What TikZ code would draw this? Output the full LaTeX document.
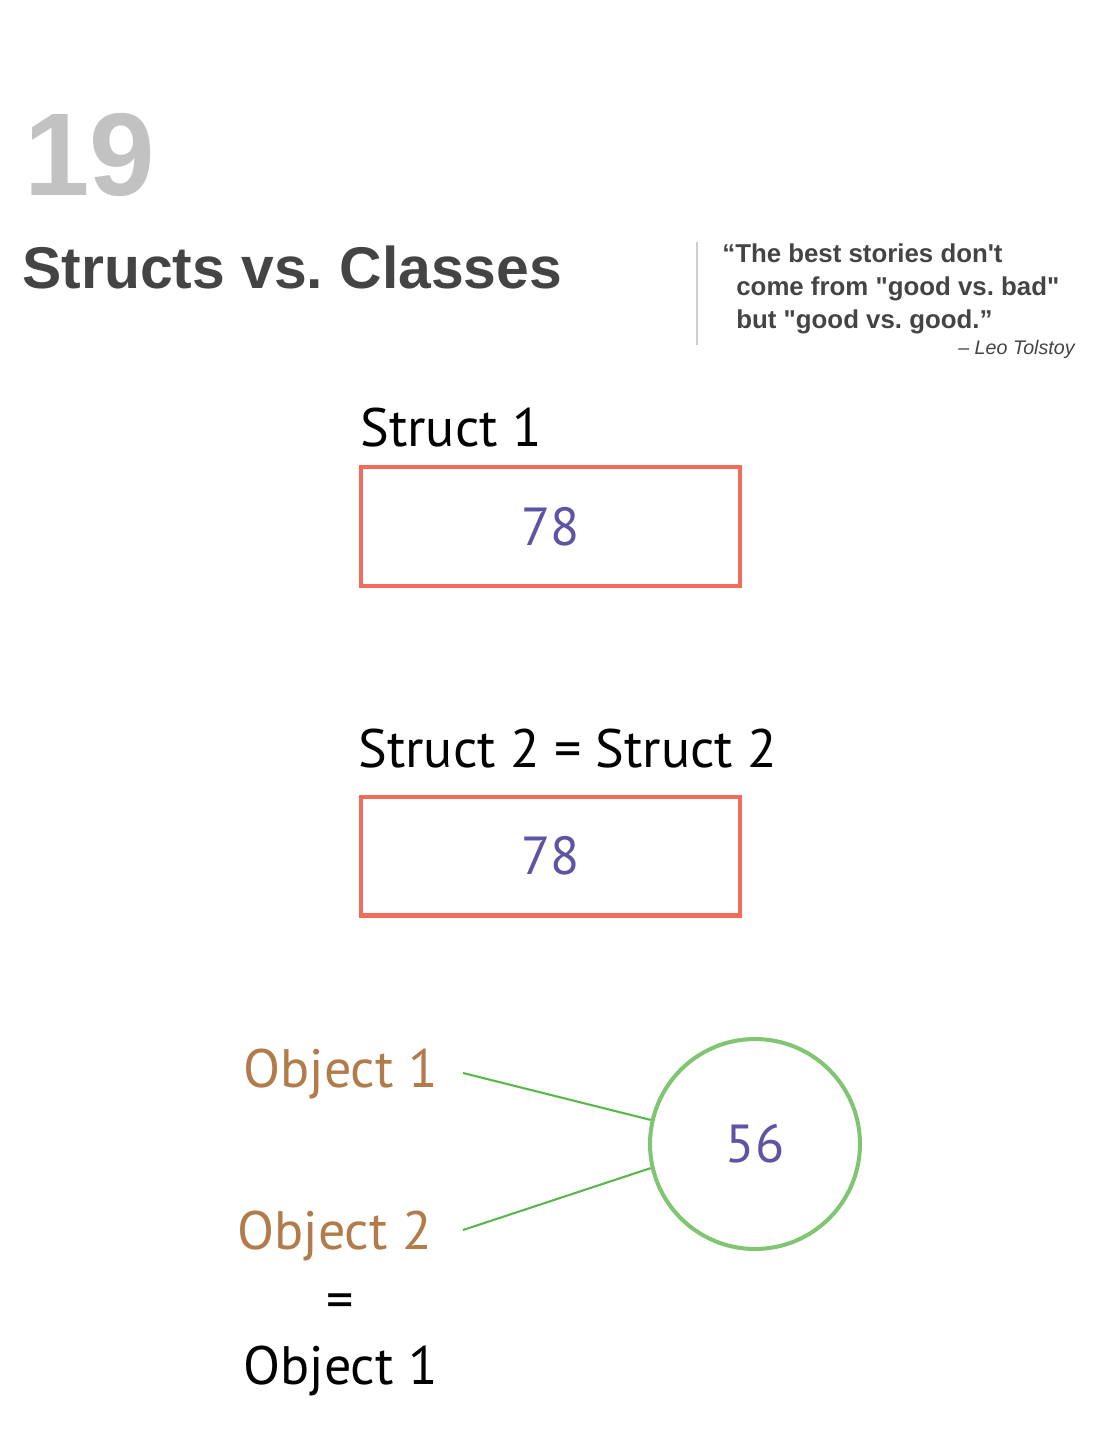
\documentclass[tikz,border=0pt]{standalone}
\usepackage{fontspec}
\setmainfont{PT Sans}
\newfontfamily\helv{Liberation Sans}
\frenchspacing

\definecolor{boxred}{HTML}{F26B5B}
\definecolor{valpurple}{HTML}{5E54A4}
\definecolor{refgreen}{HTML}{80C572}
\definecolor{linkgreen}{HTML}{5DB54F}
\definecolor{objbrown}{HTML}{B27B4A}
\definecolor{bignum}{HTML}{C2C2C2}
\definecolor{headgray}{HTML}{444444}

\begin{document}
\begin{tikzpicture}[x=0.02cm, y=-0.02cm,
  heading/.style={anchor=base west, inner sep=0pt, text=headgray},
  label/.style={anchor=base west, inner sep=0pt, font=\fontsize{30.8}{37}\selectfont},
  valuebox/.style={draw=boxred, line width=2.3pt, minimum width=7.58cm, minimum height=2.38cm,
    text=valpurple, font=\fontsize{30.5}{37}\selectfont},
  reference/.style={circle, draw=refgreen, line width=2.3pt, minimum size=4.2cm, inner sep=0pt,
    text=valpurple, font=\fontsize{30.5}{37}\selectfont},
  link/.style={draw=linkgreen, line width=1.2pt}]
\useasboundingbox (0,0) rectangle (1102,1446);

% Header
\node[heading, text=bignum, font=\helv\bfseries\fontsize{67}{70}\selectfont] (num) at (24,195) {19};
\node[heading, font=\helv\bfseries\fontsize{33.5}{40}\selectfont] (title) at (22,288) {Structs vs. Classes};
\draw[bignum!80, line width=0.6pt] (697,242) -- (697,345);
\node[heading, font=\helv\bfseries\fontsize{14.7}{18}\selectfont] (q1) at (722,262) {“The best stories don't};
\node[heading, font=\helv\bfseries\fontsize{14.7}{18}\selectfont] (q2) at (736,295) {come from "good vs. bad"};
\node[heading, font=\helv\bfseries\fontsize{14.7}{18}\selectfont] (q3) at (736,328) {but "good vs. good.”};
\node[heading, anchor=base east, font=\helv\itshape\fontsize{11.2}{14}\selectfont] (author) at (1075,354) {– Leo Tolstoy};

% Structs
\node[label] (s1) at (360,446) {Struct 1};
\node[valuebox] (b1) at (550.5,526.5) {78};
\node[label] (s2) at (358,767) {Struct 2 = Struct 2};
\node[valuebox] (b2) at (550.5,856) {78};

% Objects
\node[label, text=objbrown] (o1) at (243,1087) {Object 1};
\node[label, text=objbrown] (o2) at (237,1249) {Object 2};
\node[label, anchor=base] (eq) at (340,1318) {=};
\node[label] (o3) at (243,1384) {Object 1};
\node[reference] (val) at (755,1144) {56};
\coordinate (t1) at (463,1073);
\coordinate (t2) at (463,1230);
\draw[link] (t1) -- (val.167);
\draw[link] (t2) -- (val.193);
\end{tikzpicture}
\end{document}
